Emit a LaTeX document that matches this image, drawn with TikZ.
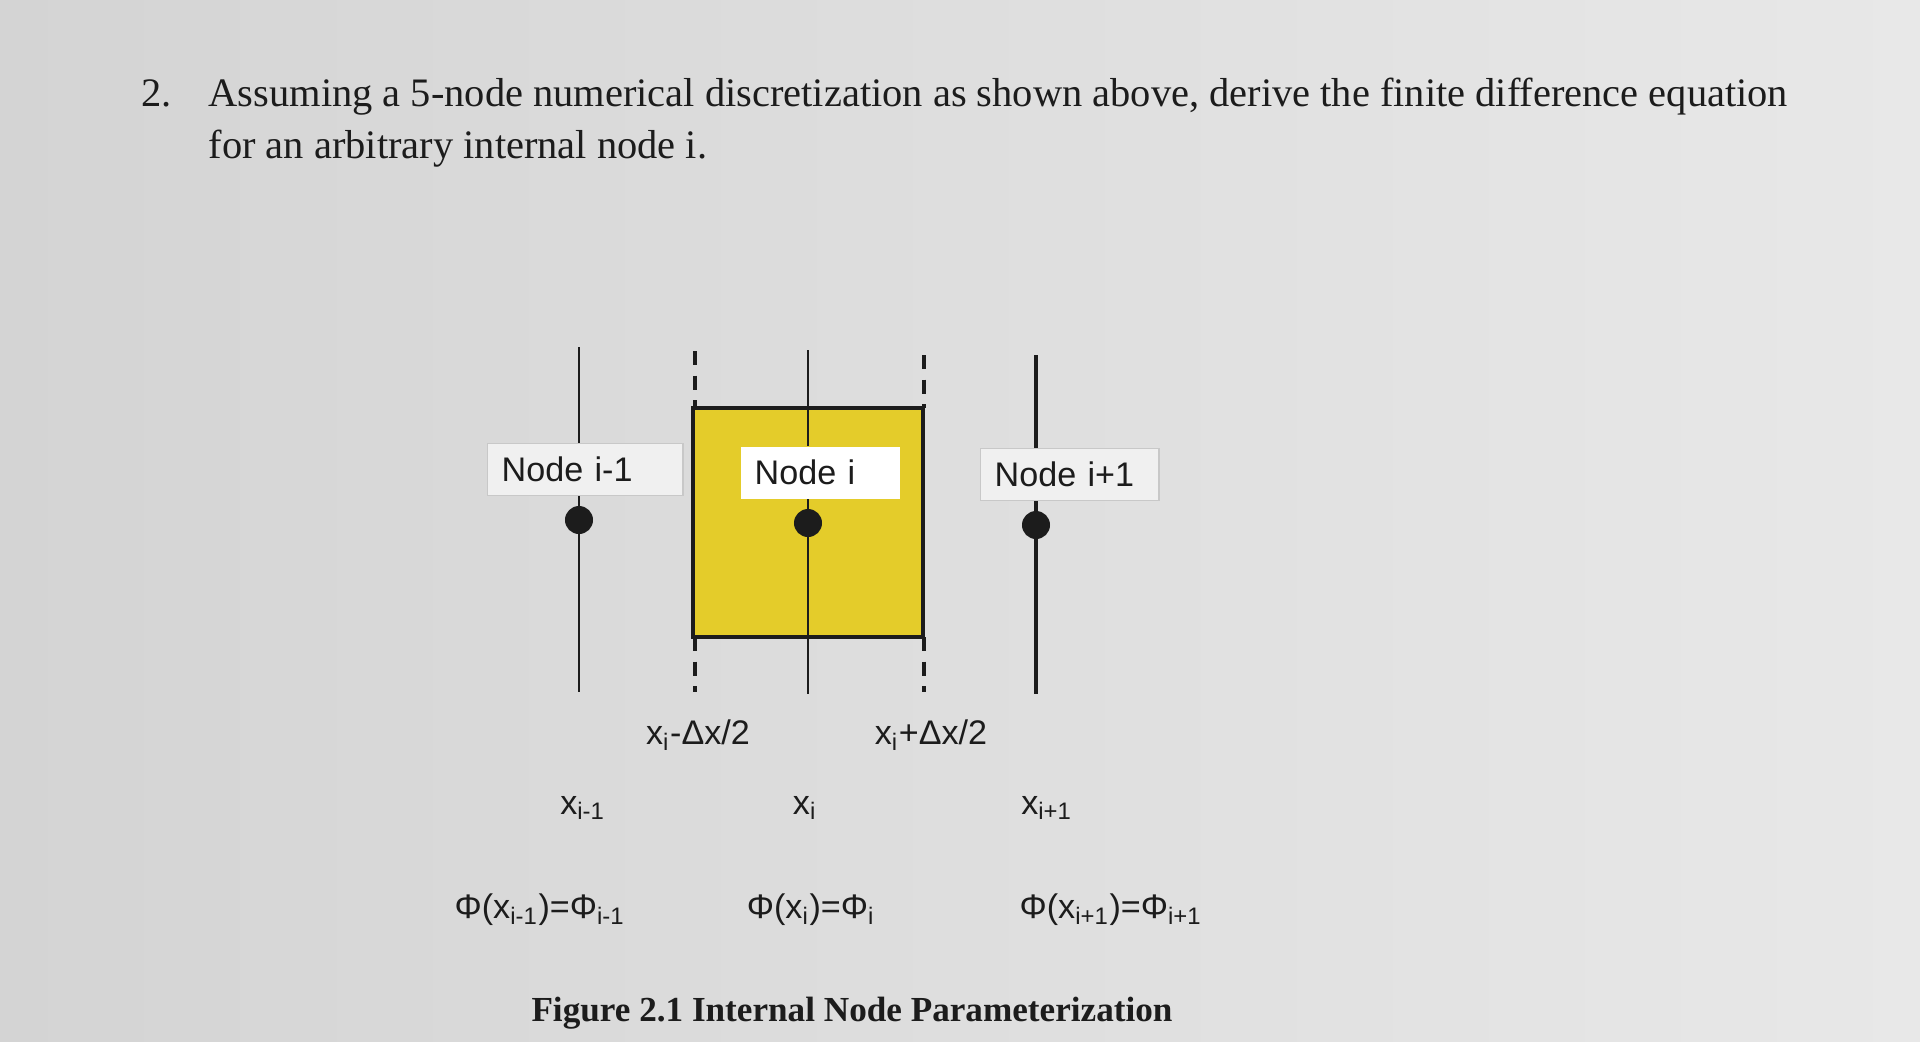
\documentclass[tikz,border=0pt]{standalone}
\usepackage{fontspec}
\setmainfont{Liberation Serif}
\setsansfont{Liberation Sans}
\definecolor{ink}{RGB}{28,28,28}
\definecolor{bgL}{RGB}{212,212,212}
\definecolor{bgR}{RGB}{232,232,232}
\definecolor{cellyellow}{RGB}{228,204,42}
\definecolor{boxgray}{RGB}{200,200,200}
\definecolor{boxfill}{RGB}{240,240,240}
\begin{document}
\begin{tikzpicture}[x=0.01cm,y=-0.01cm,
  vline/.style={draw=ink, line width=0.65pt},
  dashline/.style={draw=ink, line width=1.3pt, dash pattern=on 4pt off 3pt},
  lbl/.style={font=\sffamily\fontsize{9.7}{11}\selectfont, text=ink},
  nodebox/.style={lbl, draw=boxgray, line width=0.4pt, fill=boxfill, inner ysep=0pt, inner xsep=0.14cm, align=left, minimum height=0.52cm},
  dotstyle/.style={circle, fill=ink, inner sep=0pt, minimum size=0.28cm},
  head/.style={font=\fontsize{11.5}{15}\selectfont, text=ink, inner sep=0pt},
  capt/.style={font=\bfseries\fontsize{10}{12}\selectfont, text=ink, inner sep=0pt}
]
\useasboundingbox (0,0) rectangle (1920,1041);
\shade[left color=bgL, right color=bgR] (0,0) rectangle (1920,1041);

% heading
\node[head, anchor=base west] (num) at (141,106) {2.};
\node[head, anchor=base west] (h1) at (208,106) {Assuming a 5-node numerical discretization as shown above, derive the finite difference equation};
\node[head, anchor=base west] (h2) at (208,158) {for an arbitrary internal node i.};

% control volume
\draw[draw=ink, line width=1pt, fill=cellyellow] (693,408) rectangle (923,637);
\coordinate (dlt) at (695,351); \coordinate (dlm) at (695,408);
\coordinate (dlb) at (695,637); \coordinate (dle) at (695,692);
\coordinate (drt) at (924,355); \coordinate (drm) at (924,408);
\coordinate (drb) at (924,637); \coordinate (dre) at (924,692);
\draw[dashline] (dlt) -- (dlm);
\draw[dashline] (dlb) -- (dle);
\draw[dashline] (drt) -- (drm);
\draw[dashline] (drb) -- (dre);

% node boxes
\node[nodebox, text width=1.67cm, anchor=north west] (nl) at (487,443) {Node i-1};
\node[nodebox, draw=none, fill=white, text width=1.31cm, anchor=north west] (nc) at (740,446) {Node i};
\node[nodebox, text width=1.50cm, anchor=north west] (nr) at (980,448) {Node i+1};

% vertical lines
\coordinate (t1) at (579,347); \coordinate (b1) at (579,692);
\coordinate (t2) at (808,350); \coordinate (b2) at (808,694);
\coordinate (t3) at (1036,355); \coordinate (b3) at (1036,694);
\draw[vline] (t1) -- (t1 |- nl.north);
\draw[vline] (t1 |- nl.south) -- (b1);
\draw[vline] (t2) -- (t2 |- nc.north);
\draw[vline] (t2 |- nc.south) -- (b2);
\draw[vline, line width=0.9pt] (t3) -- (t3 |- nr.north);
\draw[vline, line width=0.9pt] (t3 |- nr.south) -- (b3);

% dots
\node[dotstyle] (d1) at (579,520) {};
\node[dotstyle] (d2) at (808,523) {};
\node[dotstyle] (d3) at (1036,525) {};

% face labels
\node[lbl] (fw) at (698,735) {x\textsubscript{i}-Δx/2};
\node[lbl] (fe) at (931,735) {x\textsubscript{i}+Δx/2};

% positions
\node[lbl] (x1) at (583,808) {x\textsubscript{i-1}};
\node[lbl] (x2) at (805,808) {x\textsubscript{i}};
\node[lbl] (x3) at (1047,808) {x\textsubscript{i+1}};

% values
\node[lbl] (p1) at (540,910) {Φ(x\textsubscript{i-1})=Φ\textsubscript{i-1}};
\node[lbl] (p2) at (811,910) {Φ(x\textsubscript{i})=Φ\textsubscript{i}};
\node[lbl] (p3) at (1111,910) {Φ(x\textsubscript{i+1})=Φ\textsubscript{i+1}};

% caption
\node[capt] (cap) at (852,1013) {Figure 2.1 Internal Node Parameterization};
\end{tikzpicture}
\end{document}
